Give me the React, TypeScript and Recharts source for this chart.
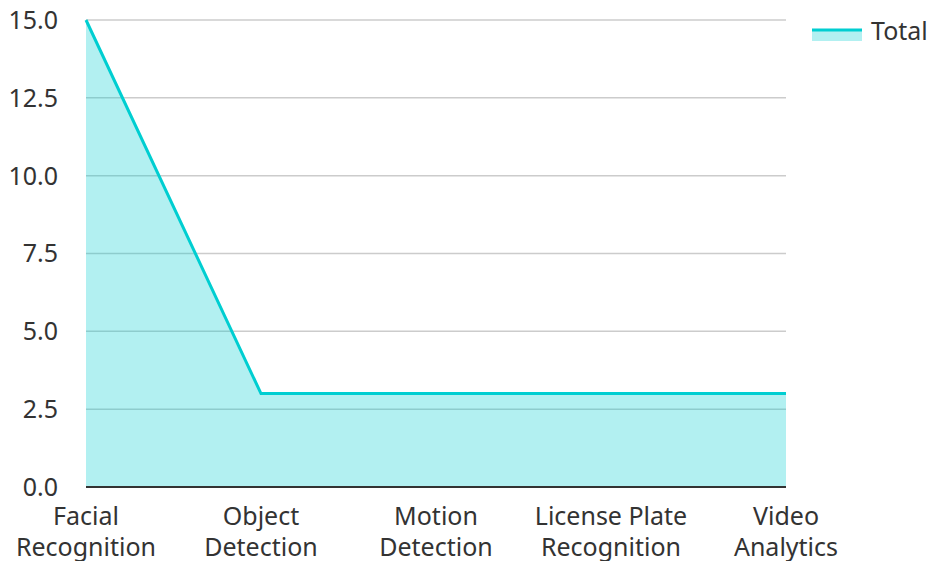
import React from 'react';
import { AreaChart, Area, XAxis, YAxis, CartesianGrid, Legend } from 'recharts';

const categories = ['Facial Recognition', 'Object Detection', 'Motion Detection', 'License Plate Recognition', 'Video Analytics'];
const totals = [15, 3, 3, 3, 3];
const yTicks = [0, 2.5, 5, 7.5, 10, 12.5, 15];

const data = categories.map((name, i) => ({ name, Total: totals[i] }));

const LINE = '#00CED1';
const FONT = '"Noto Sans", sans-serif';
const FS = 25;

const splitLabel = (label: string) => {
    const words = label.split(' ');
    if (words.length <= 1) return [label];
    if (words.length === 2) return words;
    return [words.slice(0, words.length - 1).join(' '), words[words.length - 1]];
};

const XTick = (props: any) => {
    const { x, y, payload } = props;
    const lines = splitLabel(payload.value);
    return (
        <text x={x} y={y} textAnchor="middle" fill="#333" fontSize={FS} fontFamily={FONT}>
            {lines.map((l, i) => (
                <tspan key={i} x={x} dy={i === 0 ? 30 : 31}>{l}</tspan>
            ))}
        </text>
    );
};

const LegendContent = () => (
    <div style={{ display: 'flex', alignItems: 'center', fontFamily: FONT, fontSize: FS, color: '#333', width: 116 }}>
        <svg width={50} height={26} style={{ marginRight: 9 }}>
            <rect x={0} y={13} width={50} height={11} fill={LINE} fillOpacity={0.3} />
            <line x1={0} y1={13} x2={50} y2={13} stroke={LINE} strokeWidth={3} />
        </svg>
        <span>Total</span>
    </div>
);

export default function App() {
    return (
        <div style={{ position: 'fixed', left: 0, top: 0, width: 928, height: 561, background: '#fff' }}>
            <AreaChart width={928} height={561} data={data} margin={{ top: 20, right: 26, bottom: 0, left: 0 }}>
                <CartesianGrid horizontal vertical={false} stroke="#ccc" strokeWidth={1.5} />
                <XAxis
                    dataKey="name"
                    height={74}
                    axisLine={{ stroke: '#333', strokeWidth: 2 }}
                    tickLine={false}
                    interval={0}
                    tick={<XTick />}
                />
                <YAxis
                    width={86}
                    domain={[0, 15]}
                    ticks={yTicks}
                    axisLine={false}
                    tickLine={false}
                    tickMargin={22}
                    tickFormatter={(v: number) => v.toFixed(1)}
                    tick={{ fill: '#333', fontSize: FS, fontFamily: FONT }}
                />
                <Legend
                    layout="vertical"
                    align="right"
                    verticalAlign="top"
                    content={<LegendContent />}
                    wrapperStyle={{ right: 0, top: 13, width: 116 }}
                />
                <Area
                    type="linear"
                    dataKey="Total"
                    stroke={LINE}
                    strokeWidth={3}
                    fill={LINE}
                    fillOpacity={0.3}
                    isAnimationActive={false}
                />
            </AreaChart>
        </div>
    );
}
